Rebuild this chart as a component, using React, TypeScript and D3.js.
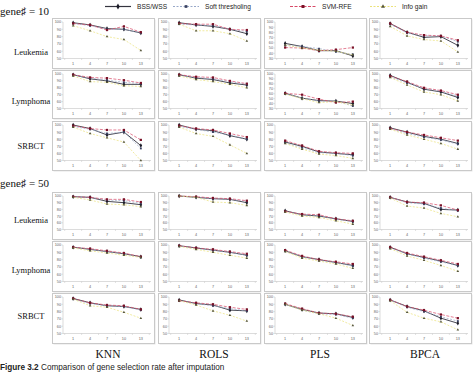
import * as d3 from "d3";

const methods = ["KNN", "ROLS", "PLS", "BPCA"];
const datasets = ["Leukemia", "Lymphoma", "SRBCT"];
const geneCounts = [10, 50];
const xTicks = [1, 4, 7, 10, 13];
const seriesNames = ["BSS/WSS", "Soft thresholing", "SVM-RFE", "Info gain"];

// rows: dataset, cols: method, values at 1,4,7,10,13
const bss10 = [
  [[99, 96, 91, 90, 85], [99, 96, 94, 90, 84], [59, 53, 45, 45, 35], [98, 86, 79, 80, 68]],
  [[99, 93, 90, 85, 85], [99, 94, 92, 87, 84], [61, 51, 46, 45, 40], [98, 88, 78, 74, 66]],
  [[100, 95, 86, 90, 71], [100, 94, 92, 85, 80], [76, 70, 62, 60, 58], [96, 90, 84, 80, 74]],
];
const soft10 = [
  [[98, 95, 90, 90, 85], [97, 96, 95, 90, 87], [55, 53, 49, 43, 38], [97, 85, 81, 81, 73]],
  [[99, 94, 91, 88, 86], [98, 95, 93, 89, 85], [60, 51, 45, 45, 35], [96, 87, 79, 75, 68]],
  [[98, 94, 88, 90, 67], [98, 94, 90, 86, 80], [75, 68, 61, 60, 57], [95, 88, 83, 79, 73]],
];
const svm10 = [
  [[98, 96, 89, 94, 86], [98, 97, 97, 90, 89], [51, 50, 45, 47, 51], [98, 86, 82, 81, 75]],
  [[99, 95, 94, 91, 87], [99, 96, 95, 90, 86], [61, 58, 49, 42, 44], [97, 89, 80, 76, 70]],
  [[99, 95, 93, 93, 79], [99, 95, 93, 88, 83], [78, 71, 63, 61, 60], [95, 90, 86, 82, 78]],
];
const info10 = [
  [[95, 88, 80, 76, 61], [97, 88, 88, 84, 74], [56, 50, 46, 44, 37], [94, 81, 76, 74, 59]],
  [[97, 89, 88, 83, 82], [97, 92, 89, 85, 80], [59, 50, 42, 44, 37], [95, 84, 74, 70, 61]],
  [[97, 88, 82, 76, 50], [97, 88, 84, 72, 60], [74, 66, 59, 57, 53], [94, 86, 80, 74, 66]],
];

const bss50 = [
  [[99, 98, 92, 90, 87], [100, 98, 96, 95, 90], [78, 72, 70, 66, 62], [98, 91, 89, 80, 79]],
  [[97, 94, 91, 88, 84], [99, 96, 93, 90, 86], [92, 84, 80, 76, 72], [97, 88, 83, 78, 72]],
  [[98, 92, 88, 87, 83], [96, 91, 89, 82, 81], [90, 83, 78, 77, 72], [96, 87, 81, 71, 64]],
];
const soft50 = [
  [[99, 98, 94, 93, 89], [100, 98, 96, 95, 92], [77, 72, 71, 65, 62], [98, 90, 88, 82, 78]],
  [[97, 94, 91, 88, 83], [99, 95, 93, 90, 86], [92, 84, 79, 76, 71], [96, 88, 82, 77, 72]],
  [[97, 91, 88, 87, 82], [95, 91, 88, 84, 81], [90, 82, 77, 76, 71], [96, 86, 80, 73, 67]],
];
const svm50 = [
  [[99, 98, 95, 95, 91], [100, 99, 97, 96, 93], [77, 73, 72, 66, 63], [98, 91, 90, 86, 79]],
  [[97, 95, 92, 89, 84], [99, 96, 94, 91, 88], [93, 85, 80, 77, 74], [97, 89, 84, 79, 74]],
  [[98, 92, 89, 88, 83], [95, 92, 90, 86, 83], [91, 84, 78, 77, 73], [96, 87, 82, 76, 71]],
];
const info50 = [
  [[98, 94, 88, 87, 84], [100, 98, 91, 90, 86], [76, 70, 68, 63, 58], [97, 85, 82, 74, 69]],
  [[96, 92, 89, 86, 83], [98, 94, 90, 86, 82], [91, 82, 78, 74, 68], [95, 85, 79, 72, 64]],
  [[97, 88, 86, 79, 71], [95, 89, 81, 75, 67], [90, 82, 77, 71, 61], [95, 79, 71, 66, 55]],
];

// lowest y tick per panel [dataset][method]
const yFloor10 = [[50, 50, 30, 50], [50, 50, 30, 50], [50, 50, 50, 50]];
const yFloor50 = [[50, 50, 50, 50], [50, 50, 50, 50], [50, 50, 50, 50]];

const W = 474;
const H = 372;
const colX = [52, 158, 264, 369];
const panelW = 102;
const rowTop = [18, 70, 121, 192, 241, 293];
const rowH = [50, 48, 49, 47, 50, 50];
const rowLabelY = [55, 104, 149, 223, 273, 319];
const headingY = [15, 187];

const styles = [
  { stroke: "#34343f", dash: null, width: 0.9, fill: "#1c1c28", sym: d3.symbolDiamond, size: 6 },
  { stroke: "#98a8c8", dash: "2,1.5", width: 0.7, fill: "#3a4160", sym: d3.symbolSquare, size: 3.5 },
  { stroke: "#d84a68", dash: "3,1.5", width: 0.7, fill: "#7a1228", sym: d3.symbolSquare, size: 5 },
  { stroke: "#ebe27a", dash: "2,1.5", width: 0.7, fill: "#55553a", sym: d3.symbolTriangle, size: 3 },
];

const Panel = ({ x, top, h, floor, series }: { x: number; top: number; h: number; floor: number; series: number[][] }) => {
  const sx = d3.scalePoint<number>().domain(xTicks).range([x + 11, x + panelW - 3]).padding(0.6);
  const sy = d3.scaleLinear().domain([floor, 100]).range([top + h - 9.5, top + 4]);
  const yt = d3.range(floor, 101, 10);
  const step = sx.step();
  const line = d3.line<number>().x((_, i) => sx(xTicks[i])!).y((v) => sy(v));
  const left = x + 11;
  const right = x + panelW - 3;
  return (
    <g>
      <rect x={x + 1.5} y={top + 1.5} width={panelW} height={h} fill="#e6e6e6" />
      <rect x={x + 0.5} y={top + 0.5} width={panelW} height={h} fill="#fff" stroke="#c9c9c9" strokeWidth={1} />
      <line x1={left} x2={left} y1={sy(100)} y2={sy(floor)} stroke="#c4c4c4" strokeWidth={0.6} />
      <line x1={left} x2={right} y1={sy(floor)} y2={sy(floor)} stroke="#c4c4c4" strokeWidth={0.6} />
      {yt.map((t) => (
        <g key={t}>
          <line x1={left - 1.5} x2={left} y1={sy(t)} y2={sy(t)} stroke="#c4c4c4" strokeWidth={0.5} />
          <text x={left - 2} y={sy(t) + 1.4} fontSize={3.8} textAnchor="end" fill="#666" fontFamily="Liberation Sans">{t}</text>
        </g>
      ))}
      {xTicks.map((t, i) => (
        <g key={t}>
          <line x1={sx(t)! + step / 2} x2={sx(t)! + step / 2} y1={sy(floor)} y2={sy(floor) + 1.5} stroke="#c4c4c4" strokeWidth={0.5} />
          {i === 0 && <line x1={sx(t)! - step / 2} x2={sx(t)! - step / 2} y1={sy(floor)} y2={sy(floor) + 1.5} stroke="#c4c4c4" strokeWidth={0.5} />}
          <text x={sx(t)} y={top + h - 3.5} fontSize={3.8} textAnchor="middle" fill="#666" fontFamily="Liberation Sans">{t}</text>
        </g>
      ))}
      {series.map((vals, si) => {
        const s = styles[si];
        return (
          <g key={si}>
            <path d={line(vals) || ""} fill="none" stroke={s.stroke} strokeWidth={s.width} strokeDasharray={s.dash || undefined} />
            {vals.map((v, i) => (
              <path key={i} d={d3.symbol().type(s.sym).size(s.size)() || ""} transform={`translate(${sx(xTicks[i])},${sy(v)})`} fill={s.fill} />
            ))}
          </g>
        );
      })}
    </g>
  );
};

export default function App() {
  const groups = [
    { bss: bss10, soft: soft10, svm: svm10, info: info10, floor: yFloor10 },
    { bss: bss50, soft: soft50, svm: svm50, info: info50, floor: yFloor50 },
  ];
  const legendX = [105, 173, 290, 370];
  return (
    <div style={{ position: "absolute", left: 0, top: 0 }}>
      <svg width={W} height={H} viewBox={`0 0 ${W} ${H}`} style={{ display: "block", background: "#fff" }}>
        {seriesNames.map((n, i) => {
          const s = styles[i];
          const lx = legendX[i];
          return (
            <g key={n}>
              <line x1={lx} x2={lx + 26} y1={6.5} y2={6.5} stroke={s.stroke} strokeWidth={s.width + 0.3} strokeDasharray={s.dash || undefined} />
              <path d={d3.symbol().type(s.sym).size(s.size + 4)() || ""} transform={`translate(${lx + 13},6.5)`} fill={s.fill} />
              <text x={lx + 32} y={8.8} fontSize={6.6} fill="#222" fontFamily="Liberation Sans">{n}</text>
            </g>
          );
        })}
        {geneCounts.map((g, gi) => (
          <text key={g} x={0} y={headingY[gi]} fontSize={11} fontFamily="Liberation Serif" fill="#111">{`gene♯ = ${g}`}</text>
        ))}
        {geneCounts.map((g, gi) =>
          datasets.map((ds, di) => {
            const r = gi * 3 + di;
            const grp = groups[gi];
            return (
              <g key={`${g}-${ds}`}>
                <text x={31} y={rowLabelY[r]} fontSize={8.5} textAnchor="middle" fontFamily="Liberation Serif" fill="#111">{ds}</text>
                {methods.map((m, mi) => (
                  <Panel
                    key={m}
                    x={colX[mi]}
                    top={rowTop[r]}
                    h={rowH[r]}
                    floor={grp.floor[di][mi]}
                    series={[grp.bss[di][mi], grp.soft[di][mi], grp.svm[di][mi], grp.info[di][mi]]}
                  />
                ))}
              </g>
            );
          })
        )}
        {methods.map((m, mi) => (
          <text key={m} x={colX[mi] + panelW / 2 + 5} y={358} fontSize={11.5} textAnchor="middle" fontFamily="Liberation Serif" fill="#111">{m}</text>
        ))}
        <text x={0} y={369.5} fontSize={8.2} fontFamily="Liberation Sans" fill="#222">
          <tspan fontWeight="bold">Figure 3.2</tspan>
          <tspan>  Comparison of gene selection rate after imputation</tspan>
        </text>
      </svg>
    </div>
  );
}
